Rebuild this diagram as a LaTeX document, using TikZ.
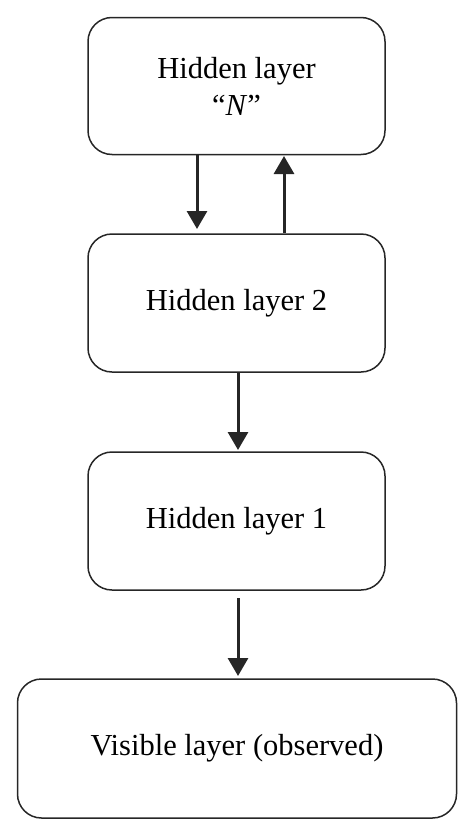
\documentclass[tikz,border=0pt]{standalone}
\usepackage{fontspec}
\setmainfont{Liberation Serif}
\usetikzlibrary{arrows.meta}
\begin{document}
\begin{tikzpicture}[x=1pt,y=-1pt,
  layer/.style={draw=black!85, line width=1.5pt, rounded corners=24pt, align=center, font=\fontsize{30.5}{37}\selectfont, inner sep=0pt},
  flow/.style={line width=3pt, black!85, -{Triangle[width=20pt,length=18pt]}}]
\useasboundingbox (0,0) rectangle (474,835);
\node[layer, minimum width=297pt, minimum height=137pt] (hn) at (236.5,86) {Hidden layer\\``\textit{N}''};
\node[layer, minimum width=297pt, minimum height=138pt] (h2) at (236.5,303) {Hidden layer 2};
\node[layer, minimum width=297pt, minimum height=138pt] (h1) at (236.5,521) {Hidden layer 1};
\node[layer, minimum width=439pt, minimum height=139pt] (v) at (237,748.5) {Visible layer (observed)};
\draw[flow] (197,155) -- (197,229);
\draw[flow] (284,233) -- (284,156);
\draw[flow] (238,373) -- (238,450);
\draw[flow] (238,598) -- (238,676);
\end{tikzpicture}
\end{document}
